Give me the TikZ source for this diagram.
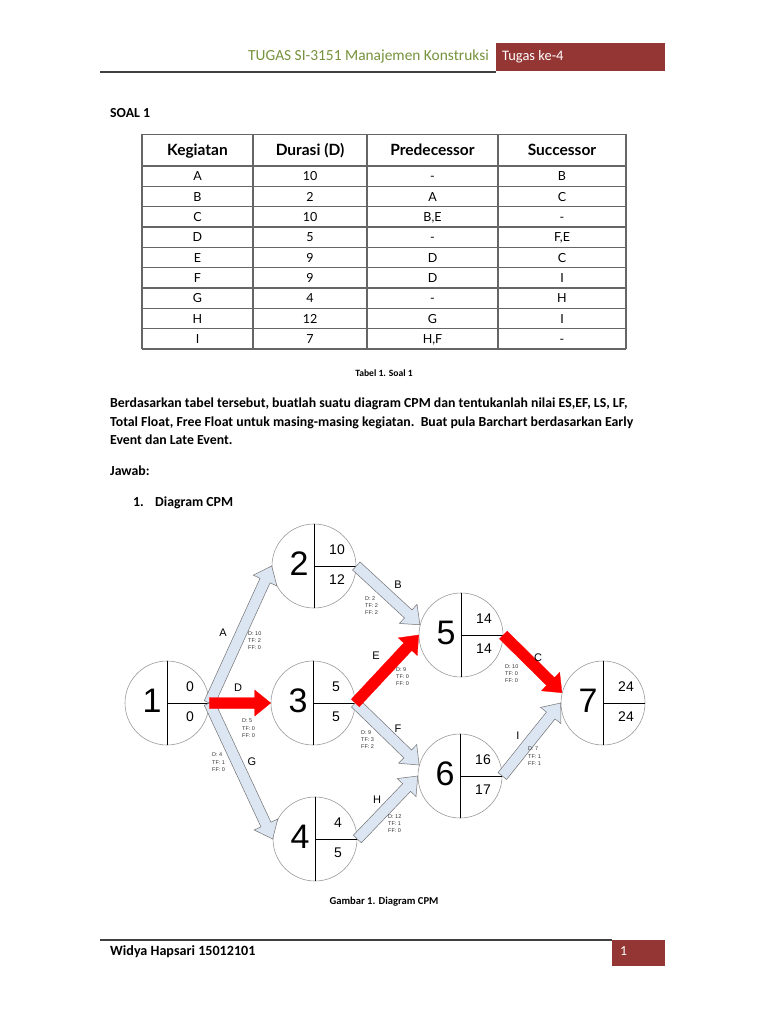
\documentclass[tikz,border=0pt]{standalone}
\usepackage{fontspec}
\setmainfont{Carlito}
\newfontfamily\diagfont{Liberation Sans}
\newfontfamily\tablefont{Lato}
\usetikzlibrary{calc}

\definecolor{hdrgreen}{HTML}{76923C}
\definecolor{hdrred}{HTML}{943634}
\definecolor{arrowblue}{HTML}{DCE5F2}
\definecolor{circgray}{HTML}{9A9A9A}

\tikzset{
  event/.style={circle, draw=circgray, line width=0.6pt, minimum size=84pt, inner sep=0pt},
  bignum/.style={font=\diagfont\fontsize{34}{34}\selectfont, inner sep=0pt},
  smallnum/.style={font=\diagfont\fontsize{14}{14}\selectfont, inner sep=0pt},
  actlabel/.style={font=\diagfont\fontsize{11}{11}\selectfont, inner sep=0pt},
  info/.style={font=\diagfont\fontsize{5.5}{7.2}\selectfont, align=left, anchor=north west, inner sep=0pt, text=black!80},
  critical/.style={fill=red, draw=red, line width=0.3pt},
  noncritical/.style={fill=arrowblue, draw=black!55, line width=0.5pt},
  body/.style={font=\bfseries\fontsize{13.8}{16}\selectfont, anchor=base west, inner sep=0pt},
  caption/.style={font=\bfseries\fontsize{9.6}{10}\selectfont, inner sep=0pt, anchor=base},
  tablehead/.style={font=\tablefont\bfseries\fontsize{15.5}{15.5}\selectfont, inner sep=0pt, anchor=base},
  tablecell/.style={font=\tablefont\fontsize{12.5}{12.5}\selectfont, inner sep=0pt, anchor=base},
  tableline/.style={line width=1.2pt, black!60},
}

% block arrow from #2 to #3
\newcommand{\cpmarrow}[3]{%
  \coordinate (hb) at ($(#3)!16pt!(#2)$);
  \filldraw[#1] ($(#2)!5.5pt!90:(#3)$) -- ($(hb)!5.5pt!90:(#3)$) -- ($(hb)!13pt!90:(#3)$) -- (#3)
    -- ($(hb)!13pt!-90:(#3)$) -- ($(hb)!5.5pt!-90:(#3)$) -- ($(#2)!5.5pt!-90:(#3)$) -- cycle;
}

\begin{document}
\begin{tikzpicture}[x=1pt,y=-1pt]
\fill[white] (0,0) rectangle (768,1024);
\useasboundingbox (0,0) rectangle (768,1024);

% header
\fill[hdrred] (496,43) rectangle (665,71);
\draw[line width=1.5pt, black!75] (100,72) -- (496,72);
\node[body, anchor=base east, text=hdrgreen, font=\fontsize{15.4}{16}\selectfont] (hdrtitle) at (489,61) {TUGAS SI-3151 Manajemen Konstruksi};
\node[body, text=white, font=\fontsize{14.5}{16}\selectfont] (hdrtugas) at (502,61) {Tugas ke-4};

\node[body] (soal) at (110,117.5) {SOAL 1};

% table
\foreach \yy in {134.5,166,186.5,206.8,227.1,247.4,267.7,288,308.3,328.6,349}
  \draw[tableline] (142,\yy) -- (626,\yy);
\foreach \xx in {142,253,367,498,626}
  \draw[tableline] (\xx,134.5) -- (\xx,349);
\node[tablehead] (thk) at (197.5,156) {Kegiatan};
\node[tablehead] (thd) at (310,156) {Durasi (D)};
\node[tablehead] (thp) at (432.5,156) {Predecessor};
\node[tablehead] (ths) at (562,156) {Successor};
\foreach \i/\k/\d/\p/\s in {0/A/10/-/B, 1/B/2/A/C, 2/C/10/{B,E}/-, 3/D/5/-/{F,E}, 4/E/9/D/C,
    5/F/9/D/I, 6/G/4/-/H, 7/H/12/G/I, 8/I/7/{H,F}/-}{
  \node[tablecell] (tk\i) at (197.5,181+20.3*\i) {\k};
  \node[tablecell] (td\i) at (310,181+20.3*\i) {\d};
  \node[tablecell] (tp\i) at (432.5,181+20.3*\i) {\p};
  \node[tablecell] (ts\i) at (562,181+20.3*\i) {\s};
}
\node[caption] (tabcap) at (384,376) {Tabel 1. Soal 1};

% text
\node[body] (par1) at (110,407.5) {Berdasarkan tabel tersebut, buatlah suatu diagram CPM dan tentukanlah nilai ES,EF, LS, LF,};
\node[body] (par2) at (110,426) {Total Float, Free Float untuk masing-masing kegiatan.\ \ Buat pula Barchart berdasarkan Early};
\node[body] (par3) at (110,444.5) {Event dan Late Event.};
\node[body] (jawab) at (110,475.5) {Jawab:};
\node[body] (num1) at (133,506.5) {1.};
\node[body] (diag) at (155,506.5) {Diagram CPM};

% events
\foreach \n/\x/\y/\es/\lf in {1/167/703/0/0, 2/314/566/10/12, 3/313/703/5/5, 4/315/839/4/5,
    5/461/635/14/14, 6/460/776/16/17, 7/603/703/24/24}{
  \node[event] (ev\n) at (\x,\y) {};
  \draw[line width=0.8pt] (ev\n.north) -- (ev\n.south);
  \draw[line width=0.8pt] (ev\n.center) -- (ev\n.east);
  \node[bignum] (big\n) at (\x-15,\y-2) {\n};
  \node[smallnum] (es\n) at (\x+23,\y-16) {\es};
  \node[smallnum] (lf\n) at (\x+23,\y+14) {\lf};
}

% activities
\cpmarrow{noncritical}{ev1.east}{ev2.west}
\cpmarrow{noncritical}{ev1.east}{ev4.west}
\cpmarrow{noncritical}{ev2.east}{ev5.166}
\cpmarrow{noncritical}{ev3.east}{ev6.165}
\cpmarrow{noncritical}{ev4.east}{ev6.west}
\cpmarrow{noncritical}{ev6.east}{ev7.west}
\cpmarrow{critical}{ev1.east}{ev3.west}
\cpmarrow{critical}{ev3.east}{ev5.west}
\cpmarrow{critical}{ev5.east}{ev7.166}

\foreach \a/\x/\y in {A/223/633, B/398/585, C/538/658, D/238/688, E/376/656,
    F/398/729, G/252/762, H/377/800, I/518/736}
  \node[actlabel] (lbl\a) at (\x,\y) {\a};
\foreach \a/\x/\y/\d/\tf/\ff in {A/248/631/10/2/0, B/365/596/2/2/2, C/505/664/10/0/0,
    D/242/719/5/0/0, E/396/667/9/0/0, F/361/730/9/3/2, G/212/753/4/1/0,
    H/388/814/12/1/0, I/528/747/7/1/1}
  \node[info] (inf\a) at (\x,\y) {D: \d\\TF: \tf\\FF: \ff};

\node[caption, font=\bfseries\fontsize{10.6}{11}\selectfont] (figcap) at (384,904.5) {Gambar 1. Diagram CPM};

% footer
\draw[line width=1.5pt, black!75] (100,940) -- (612,940);
\fill[hdrred] (612,940) rectangle (665,966);
\node[body, font=\bfseries\fontsize{14.1}{16}\selectfont] (author) at (110,955.5) {Widya Hapsari 15012101};
\node[body, text=white, font=\fontsize{13.8}{16}\selectfont] (pagenum) at (620,955.5) {1};
\end{tikzpicture}
\end{document}
